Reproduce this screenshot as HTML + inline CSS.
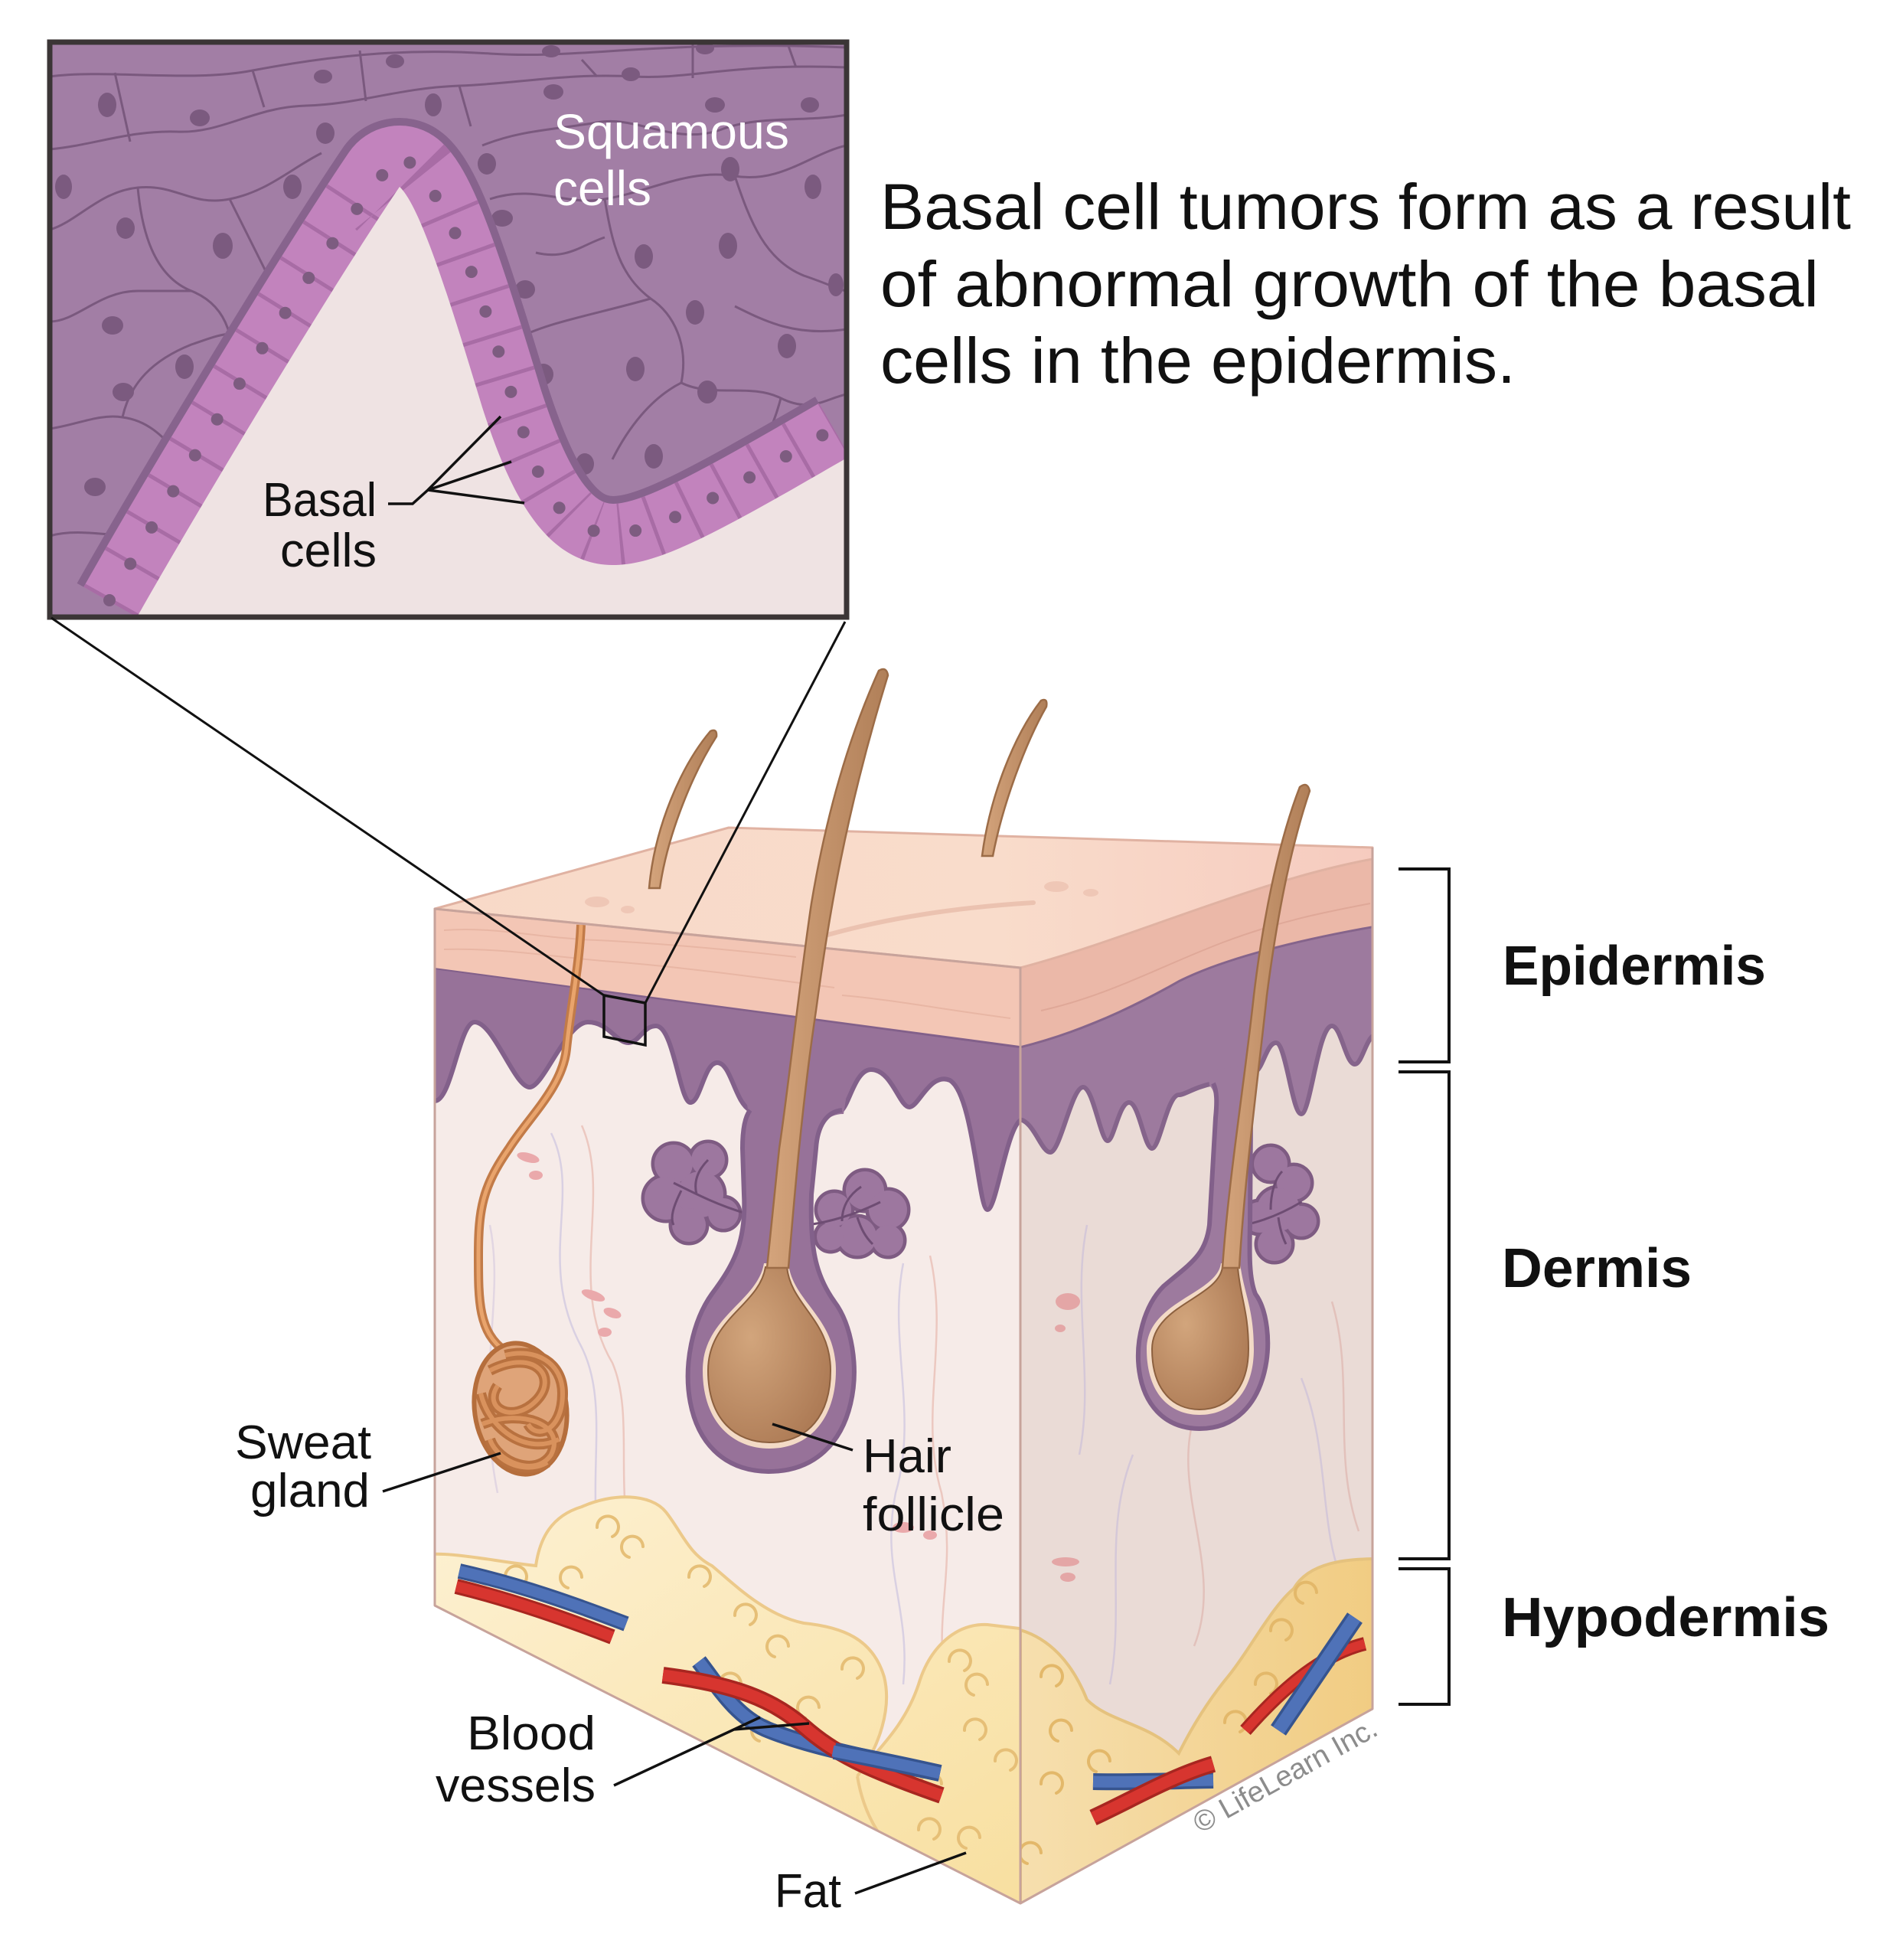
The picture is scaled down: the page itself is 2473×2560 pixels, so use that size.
<!DOCTYPE html>
<html><head><meta charset="utf-8">
<style>html,body{margin:0;padding:0;background:#fff}svg{display:block}</style>
</head><body>
<svg width="2473" height="2560" viewBox="0 0 2473 2560" xmlns="http://www.w3.org/2000/svg">
<defs>
  <clipPath id="inset"><rect x="65" y="55" width="1041" height="751"/></clipPath>
  <clipPath id="lf"><polygon points="568,1187 1333,1264 1333,2486 568,2097"/></clipPath>
  <clipPath id="rf"><path d="M1333,1264 C1480,1225 1640,1150 1793,1122 L1793,2232 L1333,2486 Z"/></clipPath>
  <linearGradient id="topg" x1="0" y1="0" x2="1" y2="0">
    <stop offset="0" stop-color="#f8d9c8"/><stop offset="0.6" stop-color="#f9dccb"/><stop offset="1" stop-color="#f6cbbf"/>
  </linearGradient>
  <linearGradient id="hairg" x1="0" y1="0" x2="1" y2="0">
    <stop offset="0" stop-color="#d4a47c"/><stop offset="1" stop-color="#b07f58"/>
  </linearGradient>
  <radialGradient id="bulbg" cx="0.35" cy="0.4" r="0.8">
    <stop offset="0" stop-color="#d2a57c"/><stop offset="1" stop-color="#a87550"/>
  </radialGradient>
  <linearGradient id="fatl" x1="0" y1="0" x2="1" y2="1">
    <stop offset="0" stop-color="#fdf1d3"/><stop offset="1" stop-color="#f8df9f"/>
  </linearGradient>
  <linearGradient id="fatr" x1="0" y1="0" x2="1" y2="0">
    <stop offset="0" stop-color="#f6dfae"/><stop offset="1" stop-color="#f1cc82"/>
  </linearGradient>
</defs>

<rect width="2473" height="2560" fill="#fff"/>

<!-- ================= INSET ================= -->
<g clip-path="url(#inset)">
  <rect x="60" y="50" width="1060" height="770" fill="#a27ea5"/>
  <g fill="none" stroke="#7a597e" stroke-width="3">
    <path d="M65,100 C140,90 250,108 330,92 C420,75 520,62 640,70 C760,78 850,52 1106,62"/>
    <path d="M65,195 C120,190 170,170 230,172 C290,175 330,140 400,138 C470,136 520,115 600,112 C680,109 740,95 830,100 C900,104 960,82 1106,88"/>
    <path d="M150,95 L170,185 M330,92 L345,140 M470,66 L478,132 M600,112 L615,165 M760,78 L780,100 M905,58 L905,102 M1030,60 L1040,88"/>
    <path d="M1106,150 C1050,160 990,150 940,170 C880,190 830,150 780,160 C720,170 680,170 630,190"/>
    <path d="M65,300 C100,290 130,250 180,245 C230,240 250,270 300,260 C350,250 380,220 420,200"/>
    <path d="M180,245 C185,300 200,360 250,380 C300,400 310,450 300,500"/>
    <path d="M300,260 C320,300 340,340 360,380 C390,360 420,320 440,300"/>
    <path d="M65,420 C100,420 130,380 180,380 C220,380 240,380 250,380"/>
    <path d="M65,560 C100,555 130,540 160,545 C200,550 220,580 240,600"/>
    <path d="M160,545 C170,500 200,470 250,450 C280,440 300,430 330,440"/>
    <path d="M240,600 C230,650 200,680 180,700 M65,700 C100,690 140,700 180,700"/>
    <path d="M640,260 C700,240 740,270 790,260 C850,250 900,220 960,230 C1020,240 1060,200 1106,190"/>
    <path d="M790,260 C800,320 810,360 850,390 C880,410 900,450 890,500"/>
    <path d="M960,230 C980,290 1000,340 1050,360 C1080,370 1100,380 1106,380"/>
    <path d="M850,390 C780,410 720,420 680,440"/>
    <path d="M890,500 C930,520 980,500 1020,520 C1060,540 1080,520 1106,515"/>
    <path d="M890,500 C850,520 820,560 800,600 M1020,520 C1010,560 990,600 960,630"/>
    <path d="M700,330 C740,340 760,320 790,310 M960,400 C1000,420 1040,440 1106,430"/>
  </g>
  <g fill="#7b5a7f">
    <ellipse cx="140" cy="137" rx="12" ry="16"/><ellipse cx="261" cy="154" rx="13" ry="11"/>
    <ellipse cx="422" cy="100" rx="12" ry="9"/><ellipse cx="516" cy="80" rx="12" ry="9"/>
    <ellipse cx="720" cy="67" rx="12" ry="8"/><ellipse cx="921" cy="63" rx="12" ry="8"/>
    <ellipse cx="425" cy="174" rx="12" ry="14"/><ellipse cx="566" cy="137" rx="11" ry="15"/>
    <ellipse cx="723" cy="120" rx="13" ry="10"/><ellipse cx="824" cy="97" rx="12" ry="9"/>
    <ellipse cx="934" cy="137" rx="13" ry="10"/><ellipse cx="1058" cy="137" rx="12" ry="10"/>
    <ellipse cx="83" cy="244" rx="11" ry="16"/><ellipse cx="382" cy="244" rx="12" ry="16"/>
    <ellipse cx="291" cy="321" rx="13" ry="17"/><ellipse cx="164" cy="298" rx="12" ry="14"/>
    <ellipse cx="636" cy="214" rx="12" ry="14"/><ellipse cx="954" cy="221" rx="12" ry="16"/>
    <ellipse cx="1062" cy="244" rx="11" ry="16"/><ellipse cx="656" cy="285" rx="14" ry="11"/>
    <ellipse cx="841" cy="335" rx="12" ry="16"/><ellipse cx="951" cy="321" rx="12" ry="17"/>
    <ellipse cx="147" cy="425" rx="14" ry="12"/><ellipse cx="241" cy="479" rx="12" ry="16"/>
    <ellipse cx="161" cy="512" rx="14" ry="12"/><ellipse cx="686" cy="378" rx="13" ry="12"/>
    <ellipse cx="908" cy="408" rx="12" ry="16"/><ellipse cx="1028" cy="452" rx="12" ry="16"/>
    <ellipse cx="710" cy="489" rx="13" ry="14"/><ellipse cx="830" cy="482" rx="12" ry="16"/>
    <ellipse cx="924" cy="512" rx="13" ry="15"/><ellipse cx="124" cy="636" rx="14" ry="12"/>
    <ellipse cx="764" cy="606" rx="12" ry="14"/><ellipse cx="854" cy="596" rx="12" ry="16"/>
    <ellipse cx="1092" cy="372" rx="10" ry="15"/><ellipse cx="352" cy="400" rx="12" ry="16"/>
  </g>
  <!-- basal layer -->
  <path d="M179,806 C250,680 430,380 522,244 C550,270 590,400 630,532 C665,640 710,737 800,738 C860,738 930,700 1110,596" fill="none" stroke="#87638d" stroke-width="180" stroke-linejoin="round"/>
  <path d="M179,806 C250,680 430,380 522,244 C550,270 590,400 630,532 C665,640 710,737 800,738 C860,738 930,700 1110,596" fill="none" stroke="#c283bd" stroke-width="160" stroke-linejoin="round"/>
  <path d="M179,806 C250,680 430,380 522,244 C550,270 590,400 630,532 C665,640 710,737 800,738 C860,738 930,700 1110,596" fill="none" stroke="#a86ca5" stroke-width="160" stroke-linejoin="round" stroke-dasharray="5 50"/>
  <path d="M143,784 C214,658 394,358 522,200 C589,255 629,385 669,517 C699,615 723,697 800,696 C860,696 909,664 1089,560" fill="none" stroke="#7d5c80" stroke-width="16" stroke-linecap="round" stroke-dasharray="0 55"/>
  <path d="M179,806 C250,680 430,380 522,244 C550,270 590,400 630,532 C665,640 710,737 800,738 C860,738 930,700 1110,596 L1110,810 L179,810 Z" fill="#efe3e3"/>
</g>
<rect x="65" y="55" width="1041" height="751" fill="none" stroke="#3b3536" stroke-width="7"/>

<!-- inset labels -->
<g font-family="'Liberation Sans', sans-serif" font-size="64" fill="#ffffff">
  <text x="723" y="194" textLength="308" lengthAdjust="spacingAndGlyphs">Squamous</text>
  <text x="723" y="268" textLength="128" lengthAdjust="spacingAndGlyphs">cells</text>
</g>
<g font-family="'Liberation Sans', sans-serif" font-size="62" fill="#111">
  <text x="343" y="674" textLength="149" lengthAdjust="spacingAndGlyphs">Basal</text>
  <text x="366" y="740" textLength="126" lengthAdjust="spacingAndGlyphs">cells</text>
</g>
<path d="M507,658 L539,658 L559,640 M559,640 L654,544 M559,640 L668,603 M559,640 L685,657" fill="none" stroke="#111" stroke-width="3.5"/>

<!-- ================= TITLE ================= -->
<g font-family="'Liberation Sans', sans-serif" font-size="84" fill="#111">
  <text x="1150" y="299" textLength="1268" lengthAdjust="spacingAndGlyphs">Basal cell tumors form as a result</text>
  <text x="1150" y="400" textLength="1226" lengthAdjust="spacingAndGlyphs">of abnormal growth of the basal</text>
  <text x="1150" y="500" textLength="830" lengthAdjust="spacingAndGlyphs">cells in the epidermis.</text>
</g>

<!-- ================= LEFT FACE ================= -->
<g clip-path="url(#lf)">
  <rect x="560" y="1180" width="790" height="1320" fill="#f6ebe8"/>
  <g fill="none" stroke-width="2.5">
    <path d="M720,1480 C760,1560 700,1650 760,1760 C800,1840 760,1950 790,2050" stroke="#d9d0e2"/>
    <path d="M760,1470 C800,1560 740,1680 800,1780 C830,1850 800,1950 830,2040" stroke="#ecc8c0"/>
    <path d="M1180,1650 C1160,1750 1200,1850 1170,1950 C1150,2050 1190,2100 1180,2200" stroke="#d9d0e2"/>
    <path d="M1215,1640 C1240,1750 1200,1850 1230,1950 C1250,2050 1220,2100 1235,2200" stroke="#ecc8c0"/>
    <path d="M640,1600 C660,1700 620,1800 650,1950" stroke="#e2d6e2"/>
  </g>
  <g fill="#eaa9ab">
    <ellipse cx="690" cy="1512" rx="15" ry="6" transform="rotate(15 690 1512)"/>
    <ellipse cx="700" cy="1535" rx="9" ry="6"/>
    <ellipse cx="775" cy="1692" rx="16" ry="6" transform="rotate(20 775 1692)"/>
    <ellipse cx="800" cy="1715" rx="12" ry="6" transform="rotate(20 800 1715)"/>
    <ellipse cx="790" cy="1740" rx="9" ry="6"/>
    <ellipse cx="1180" cy="1995" rx="14" ry="7"/><ellipse cx="1215" cy="2005" rx="9" ry="6"/>
  </g>
  <!-- fat left -->
  <path d="M560,2030 C600,2028 650,2040 700,2045 C705,2010 720,1980 760,1968 C800,1950 850,1950 870,1975 C890,2000 900,2030 930,2045 C960,2070 1000,2110 1050,2120 C1100,2125 1140,2140 1155,2190 C1165,2230 1150,2280 1120,2320 C1140,2290 1180,2260 1200,2200 C1215,2150 1250,2120 1290,2122 L1340,2128 L1340,2500 L560,2500 Z" fill="url(#fatl)" stroke="#ecc98a" stroke-width="4"/>
  <path d="M1120,2320 C1130,2380 1160,2420 1200,2440" fill="none" stroke="#ecc98a" stroke-width="4"/>
  <g fill="none" stroke="#e6bf77" stroke-width="4" stroke-linecap="round">
    <path d="M780,1995 a14,14 0 1,1 20,12"/><path d="M840,2020 a14,14 0 1,0 -18,14"/>
    <path d="M900,2060 a14,14 0 1,1 20,12"/><path d="M760,2060 a14,14 0 1,0 -18,14"/>
    <path d="M960,2110 a14,14 0 1,1 20,12"/><path d="M1030,2150 a14,14 0 1,0 -18,14"/>
    <path d="M1100,2180 a14,14 0 1,1 20,12"/><path d="M1070,2230 a14,14 0 1,0 -18,14"/>
    <path d="M1240,2170 a14,14 0 1,1 20,12"/><path d="M1290,2200 a14,14 0 1,0 -18,14"/>
    <path d="M1260,2260 a14,14 0 1,1 20,12"/><path d="M1230,2330 a14,14 0 1,0 -18,14"/>
    <path d="M1300,2300 a14,14 0 1,1 20,12"/><path d="M1200,2390 a14,14 0 1,1 20,12"/>
    <path d="M1280,2400 a14,14 0 1,0 -18,14"/><path d="M940,2200 a14,14 0 1,1 20,12"/>
    <path d="M660,2060 a14,14 0 1,1 20,12"/><path d="M1010,2260 a14,14 0 1,0 -18,14"/>
  </g>
  <!-- vessels left -->
  <g fill="none" stroke-linecap="butt">
    <path d="M600,2052 C680,2070 750,2095 818,2121" stroke="#36548f" stroke-width="20"/>
    <path d="M600,2052 C680,2070 750,2095 818,2121" stroke="#4f72b8" stroke-width="14"/>
    <path d="M596,2072 C670,2090 740,2115 800,2138" stroke="#a82620" stroke-width="20"/>
    <path d="M596,2072 C670,2090 740,2115 800,2138" stroke="#d7352f" stroke-width="14"/>
    <path d="M913,2170 C940,2205 960,2240 1000,2258 C1040,2275 1100,2290 1228,2316" stroke="#36548f" stroke-width="22"/>
    <path d="M913,2170 C940,2205 960,2240 1000,2258 C1040,2275 1100,2290 1228,2316" stroke="#4f72b8" stroke-width="15"/>
    <path d="M866,2188 C960,2200 1010,2220 1050,2255 C1090,2290 1130,2310 1230,2345" stroke="#a82620" stroke-width="22"/>
    <path d="M866,2188 C960,2200 1010,2220 1050,2255 C1090,2290 1130,2310 1230,2345" stroke="#d7352f" stroke-width="15"/>
    <path d="M1090,2287 C1140,2297 1180,2305 1228,2316" stroke="#36548f" stroke-width="22"/>
    <path d="M1088,2287 C1140,2297 1180,2305 1228,2316" stroke="#4f72b8" stroke-width="15"/>
  </g>
  <!-- purple epidermis -->
  <path d="M560,1262 L1340,1367 L1340,1462 L1335,1462 C1315,1470 1302,1580 1290,1580 C1278,1580 1272,1430 1241,1411 C1215,1400 1200,1446 1188,1446 C1175,1446 1165,1397 1138,1397 C1118,1397 1110,1440 1100,1450 L980,1450 C960,1440 955,1388 937,1388 C920,1388 915,1440 902,1440 C888,1440 880,1340 857,1340 C840,1340 835,1362 821,1362 C805,1362 795,1335 768,1335 C740,1335 710,1420 692,1420 C672,1420 645,1335 620,1335 C600,1335 590,1438 568,1438 L560,1438 Z" fill="#977299" stroke="#82608a" stroke-width="6"/>
  <!-- sebaceous glands follicle 1 -->
  <g stroke="#7e5b82" stroke-width="9" fill="#7e5b82">
    <circle cx="880" cy="1520" r="25"/><circle cx="925" cy="1515" r="22"/><circle cx="870" cy="1565" r="28"/>
    <circle cx="915" cy="1560" r="30"/><circle cx="900" cy="1600" r="22"/><circle cx="945" cy="1585" r="20"/>
    <circle cx="1090" cy="1580" r="22"/><circle cx="1130" cy="1555" r="25"/><circle cx="1160" cy="1580" r="25"/>
    <circle cx="1120" cy="1615" r="25"/><circle cx="1160" cy="1620" r="20"/><circle cx="1085" cy="1615" r="18"/>
  </g>
  <g fill="#9d779f">
    <circle cx="880" cy="1520" r="25"/><circle cx="925" cy="1515" r="22"/><circle cx="870" cy="1565" r="28"/>
    <circle cx="915" cy="1560" r="30"/><circle cx="900" cy="1600" r="22"/><circle cx="945" cy="1585" r="20"/>
    <circle cx="1090" cy="1580" r="22"/><circle cx="1130" cy="1555" r="25"/><circle cx="1160" cy="1580" r="25"/>
    <circle cx="1120" cy="1615" r="25"/><circle cx="1160" cy="1620" r="20"/><circle cx="1085" cy="1615" r="18"/>
  </g>
  <g fill="none" stroke="#6e4d73" stroke-width="3">
    <path d="M975,1585 C940,1575 910,1560 880,1545 M910,1560 C905,1540 915,1525 925,1515 M890,1555 C880,1575 875,1590 880,1600"/>
    <path d="M1055,1600 C1090,1595 1120,1585 1150,1570 M1120,1590 C1125,1605 1130,1615 1140,1625 M1100,1595 C1100,1575 1110,1560 1125,1550"/>
  </g>
  <!-- follicle 1 sheath -->
  <path d="M975,1436 L1105,1436 L1102,1455 C1080,1455 1068,1470 1066,1500 L1060,1560 C1058,1630 1065,1665 1090,1700 C1135,1760 1130,1922 1004,1922 C880,1920 880,1760 930,1690 C960,1650 975,1620 972,1560 L970,1500 C970,1480 972,1460 978,1455 Z" fill="#977299"/>
  <path d="M980,1450 C972,1460 970,1480 970,1500 L972,1560 C975,1620 960,1650 930,1690 C880,1760 880,1920 1004,1922 C1130,1922 1135,1760 1090,1700 C1065,1665 1058,1630 1060,1560 L1066,1500 C1068,1470 1080,1452 1100,1450" fill="none" stroke="#82608a" stroke-width="6"/>
  <path d="M998,1650 C990,1700 918,1720 918,1790 C918,1860 960,1892 1005,1892 C1060,1892 1092,1850 1092,1790 C1092,1720 1035,1700 1030,1650 Z" fill="#f3dac6"/>
  <path d="M1000,1655 C992,1705 925,1722 925,1790 C925,1855 962,1884 1005,1884 C1056,1884 1085,1848 1085,1790 C1085,1724 1033,1705 1028,1655 Z" fill="url(#bulbg)" stroke="#8c603f" stroke-width="2"/>
  <!-- pink band -->
  <polygon points="560,1186 1340,1264 1340,1367 560,1263" fill="#f3c6b5"/>
  <g fill="none" stroke="#e8b6a4" stroke-width="2">
    <path d="M580,1215 C650,1210 700,1225 780,1228 C860,1232 950,1240 1040,1250"/>
    <path d="M580,1240 C660,1238 720,1250 800,1256 C880,1262 980,1275 1090,1290"/>
    <path d="M1100,1300 C1160,1305 1230,1318 1320,1330"/>
  </g>
  <!-- sweat duct -->
  <path d="M759,1208 C757,1260 745,1320 740,1370 C735,1420 690,1460 665,1500 C630,1550 625,1580 625,1640 C625,1700 625,1740 660,1765 C690,1785 700,1790 690,1800" fill="none" stroke="#c27b48" stroke-width="12"/>
  <path d="M759,1208 C757,1260 745,1320 740,1370 C735,1420 690,1460 665,1500 C630,1550 625,1580 625,1640 C625,1700 625,1740 660,1765 C690,1785 700,1790 690,1800" fill="none" stroke="#e9a46c" stroke-width="5"/>
  <!-- sweat coil -->
  <ellipse cx="680" cy="1840" rx="60" ry="86" transform="rotate(-8 680 1840)" fill="#dfa479" stroke="#b56e3c" stroke-width="6"/>
  <g fill="none" stroke="#b8713f" stroke-width="14">
    <path d="M640,1790 C700,1760 730,1800 700,1830 C670,1860 630,1840 650,1810"/>
    <path d="M630,1860 C680,1840 740,1860 720,1900 C700,1930 650,1910 640,1880"/>
    <path d="M660,1770 C700,1760 735,1780 735,1820 C735,1870 700,1880 690,1860"/>
    <path d="M628,1820 C640,1870 690,1900 730,1880"/>
    <path d="M650,1900 C670,1920 700,1920 715,1910"/>
  </g>
  <g fill="none" stroke="#d9925d" stroke-width="6">
    <path d="M640,1790 C700,1760 730,1800 700,1830 C670,1860 630,1840 650,1810"/>
    <path d="M630,1860 C680,1840 740,1860 720,1900 C700,1930 650,1910 640,1880"/>
    <path d="M660,1770 C700,1760 735,1780 735,1820 C735,1870 700,1880 690,1860"/>
    <path d="M628,1820 C640,1870 690,1900 730,1880"/>
    <path d="M650,1900 C670,1920 700,1920 715,1910"/>
  </g>
</g>

<!-- ================= RIGHT FACE ================= -->
<g clip-path="url(#rf)">
  <rect x="1320" y="1100" width="490" height="1400" fill="#eadbd6"/>
  <g fill="none" stroke-width="2.5">
    <path d="M1480,1900 C1440,2000 1470,2100 1450,2200" stroke="#d5c8d8"/>
    <path d="M1560,1850 C1530,1950 1600,2050 1560,2150" stroke="#e2c1bb"/>
    <path d="M1700,1800 C1740,1900 1720,2000 1760,2080" stroke="#d5c8d8"/>
    <path d="M1740,1700 C1770,1800 1740,1900 1775,2000" stroke="#e2c1bb"/>
    <path d="M1420,1600 C1400,1700 1430,1800 1410,1900" stroke="#d5c8d8"/>
  </g>
  <g fill="#e4a6a6">
    <ellipse cx="1395" cy="1700" rx="16" ry="11"/><ellipse cx="1385" cy="1735" rx="7" ry="5"/>
    <ellipse cx="1392" cy="2040" rx="18" ry="6"/><ellipse cx="1395" cy="2060" rx="10" ry="6"/>
  </g>
  <!-- fat right -->
  <path d="M1333,2129 C1370,2140 1400,2170 1420,2220 C1450,2250 1500,2250 1540,2290 C1560,2250 1580,2220 1600,2195 C1630,2160 1660,2100 1690,2075 C1710,2040 1760,2036 1800,2036 L1800,2300 L1333,2500 Z" fill="url(#fatr)" stroke="#e5c27e" stroke-width="4"/>
  <g fill="none" stroke="#e3b86a" stroke-width="4" stroke-linecap="round">
    <path d="M1360,2190 a14,14 0 1,1 20,12"/><path d="M1400,2260 a14,14 0 1,0 -18,14"/>
    <path d="M1360,2330 a14,14 0 1,1 20,12"/><path d="M1450,2300 a14,14 0 1,0 -18,14"/>
    <path d="M1660,2130 a14,14 0 1,1 20,12"/><path d="M1720,2080 a14,14 0 1,0 -18,14"/>
    <path d="M1640,2200 a14,14 0 1,1 20,12"/><path d="M1760,2160 a14,14 0 1,0 -18,14"/>
    <path d="M1600,2250 a14,14 0 1,1 20,12"/><path d="M1360,2420 a14,14 0 1,0 -18,14"/>
  </g>
  <g fill="none">
    <path d="M1428,2327 C1480,2328 1530,2326 1585,2325" stroke="#36548f" stroke-width="22"/>
    <path d="M1428,2327 C1480,2328 1530,2326 1585,2325" stroke="#4f72b8" stroke-width="15"/>
    <path d="M1428,2374 C1480,2350 1530,2320 1585,2304" stroke="#a82620" stroke-width="22"/>
    <path d="M1428,2374 C1480,2350 1530,2320 1585,2304" stroke="#d7352f" stroke-width="15"/>
    <path d="M1627,2260 C1680,2200 1730,2160 1783,2147" stroke="#a82620" stroke-width="18"/>
    <path d="M1627,2260 C1680,2200 1730,2160 1783,2147" stroke="#d7352f" stroke-width="12"/>
    <path d="M1670,2260 L1770,2113" stroke="#36548f" stroke-width="24"/>
    <path d="M1670,2260 L1770,2113" stroke="#4f72b8" stroke-width="17"/>
  </g>
  <!-- purple right -->
  <path d="M1330,1367 C1400,1350 1470,1320 1540,1280 C1600,1250 1700,1225 1800,1208 L1800,1350 C1785,1350 1780,1390 1770,1390 C1758,1390 1752,1340 1740,1340 C1722,1340 1712,1455 1700,1455 C1688,1455 1680,1362 1667,1362 C1655,1362 1650,1395 1640,1400 L1585,1415 C1560,1420 1548,1430 1540,1430 C1525,1430 1515,1500 1505,1500 C1495,1500 1488,1440 1475,1440 C1462,1440 1455,1490 1447,1490 C1438,1490 1428,1420 1415,1420 C1400,1420 1385,1505 1372,1505 C1360,1505 1350,1462 1330,1462 Z" fill="#9d7a9e" stroke="#85648b" stroke-width="6"/>
  <!-- gland 2 -->
  <g stroke="#7e5b82" stroke-width="9" fill="#7e5b82">
    <circle cx="1660" cy="1520" r="22"/><circle cx="1690" cy="1545" r="22"/><circle cx="1670" cy="1580" r="28"/>
    <circle cx="1700" cy="1595" r="20"/><circle cx="1665" cy="1625" r="22"/><circle cx="1645" cy="1590" r="20"/>
  </g>
  <g fill="#9d779f">
    <circle cx="1660" cy="1520" r="22"/><circle cx="1690" cy="1545" r="22"/><circle cx="1670" cy="1580" r="28"/>
    <circle cx="1700" cy="1595" r="20"/><circle cx="1665" cy="1625" r="22"/><circle cx="1645" cy="1590" r="20"/>
  </g>
  <path d="M1625,1600 C1650,1595 1675,1585 1700,1570 M1670,1590 C1672,1605 1675,1615 1680,1625 M1660,1580 C1660,1560 1665,1540 1675,1530" fill="none" stroke="#6e4d73" stroke-width="3"/>
  <!-- follicle 2 sheath -->
  <path d="M1578,1398 L1646,1390 L1644,1404 C1636,1412 1634,1430 1634,1460 L1633,1600 C1632,1640 1632,1670 1640,1690 C1670,1730 1665,1866 1567,1866 C1470,1865 1470,1730 1520,1680 C1555,1650 1575,1640 1580,1600 L1586,1460 C1588,1440 1588,1425 1580,1418 Z" fill="#9d7a9e"/>
  <path d="M1585,1415 C1590,1425 1590,1440 1588,1460 L1580,1600 C1575,1640 1555,1650 1520,1680 C1470,1730 1470,1865 1567,1866 C1665,1866 1670,1730 1640,1690 C1632,1670 1632,1640 1633,1600 L1634,1460 C1634,1430 1636,1410 1640,1400" fill="none" stroke="#82608a" stroke-width="6"/>
  <path d="M1595,1650 C1590,1690 1498,1700 1498,1762 C1498,1822 1530,1848 1567,1848 C1610,1848 1638,1816 1638,1762 C1638,1708 1625,1690 1620,1650 Z" fill="#f3dac6"/>
  <path d="M1597,1655 C1592,1695 1505,1705 1505,1762 C1505,1816 1533,1841 1567,1841 C1605,1841 1631,1812 1631,1762 C1631,1712 1620,1694 1617,1655 Z" fill="url(#bulbg)" stroke="#8c603f" stroke-width="2"/>
  <!-- pink band right -->
  <path d="M1333,1264 C1480,1225 1640,1150 1793,1122 L1800,1122 L1800,1208 C1700,1225 1600,1250 1540,1280 C1470,1320 1400,1350 1330,1367 Z" fill="#ebb8a8"/>
  <path d="M1360,1320 C1450,1300 1520,1260 1600,1230 C1680,1200 1740,1190 1790,1180" fill="none" stroke="#dfa898" stroke-width="2"/>
</g>

<!-- top face -->
<path d="M568,1187 L952,1081 L1793,1107 L1793,1122 C1640,1150 1480,1225 1333,1264 Z" fill="url(#topg)" stroke="#e0b2a2" stroke-width="3" stroke-linejoin="round"/>
<path d="M1064,1226 C1150,1200 1250,1185 1350,1179" fill="none" stroke="#ebc2b0" stroke-width="6" stroke-linecap="round"/>
<g fill="#efc7b6">
  <ellipse cx="780" cy="1178" rx="16" ry="7"/><ellipse cx="820" cy="1188" rx="9" ry="5"/>
  <ellipse cx="1380" cy="1158" rx="16" ry="7"/><ellipse cx="1425" cy="1166" rx="10" ry="5"/>
</g>

<!-- block outlines -->
<g fill="none" stroke="#c7a39b" stroke-width="3" stroke-linejoin="round">
  <polygon points="568,1187 1333,1264 1333,2486 568,2097"/>
  <path d="M1333,2486 L1793,2232 L1793,1107"/>
</g>

<!-- hairs -->
<g fill="url(#hairg)" stroke="#9c6c47" stroke-width="2.5">
  <path d="M848,1160 C855,1080 890,1000 928,955 Q937,951 936,962 C905,1010 872,1090 862,1160 Z"/>
  <path d="M1283,1118 C1293,1040 1325,960 1360,915 Q1369,911 1367,923 C1340,970 1310,1050 1297,1118 Z"/>
  <path d="M1148,876 C1110,960 1080,1060 1060,1180 C1045,1280 1030,1420 1018,1500 L1002,1656 L1030,1656 C1038,1560 1048,1440 1066,1320 C1082,1200 1105,1060 1160,882 Q1158,870 1148,876 Z"/>
  <path d="M1698,1028 C1670,1100 1650,1200 1638,1300 C1625,1420 1605,1540 1597,1656 L1619,1656 C1626,1540 1642,1420 1655,1300 C1668,1200 1685,1110 1711,1033 Q1708,1020 1698,1028 Z"/>
</g>

<!-- connector lines (on top) -->
<path d="M67,807 L789,1300 M1104,812 L843,1310" stroke="#111" stroke-width="3" fill="none"/>
<polygon points="789,1300 843,1310 843,1365 789,1354" fill="none" stroke="#111" stroke-width="3.5"/>

<!-- brackets -->
<g fill="none" stroke="#111" stroke-width="4">
  <path d="M1827,1135 H1893 V1387 H1827"/>
  <path d="M1827,1400 H1893 V2036 H1827"/>
  <path d="M1827,2049 H1893 V2226 H1827"/>
</g>
<g font-family="'Liberation Sans', sans-serif" font-size="72" font-weight="bold" fill="#111">
  <text x="1963" y="1286" textLength="344" lengthAdjust="spacingAndGlyphs">Epidermis</text>
  <text x="1962" y="1681" textLength="248" lengthAdjust="spacingAndGlyphs">Dermis</text>
  <text x="1962" y="2137" textLength="428" lengthAdjust="spacingAndGlyphs">Hypodermis</text>
</g>

<!-- labels -->
<g font-family="'Liberation Sans', sans-serif" font-size="62" fill="#111">
  <text x="307" y="1905" textLength="178" lengthAdjust="spacingAndGlyphs">Sweat</text>
  <text x="327" y="1968" textLength="156" lengthAdjust="spacingAndGlyphs">gland</text>
  <text x="1127" y="1923" textLength="116" lengthAdjust="spacingAndGlyphs">Hair</text>
  <text x="1127" y="1999" textLength="185" lengthAdjust="spacingAndGlyphs">follicle</text>
  <text x="610" y="2285" textLength="168" lengthAdjust="spacingAndGlyphs">Blood</text>
  <text x="569" y="2353" textLength="209" lengthAdjust="spacingAndGlyphs">vessels</text>
  <text x="1012" y="2491" textLength="87" lengthAdjust="spacingAndGlyphs">Fat</text>
</g>
<g fill="none" stroke="#111" stroke-width="3.5">
  <path d="M500,1948 L654,1898"/>
  <path d="M1009,1860 L1114,1894"/>
  <path d="M802,2332 L993,2243 M958,2259 L1057,2251"/>
  <path d="M1117,2473 L1262,2420"/>
</g>
<text x="1568" y="2395" transform="rotate(-29 1568 2395)" font-family="'Liberation Sans', sans-serif" font-size="38" fill="#8c8c8c" textLength="268" lengthAdjust="spacingAndGlyphs">© LifeLearn Inc.</text>
</svg>
</body></html>
